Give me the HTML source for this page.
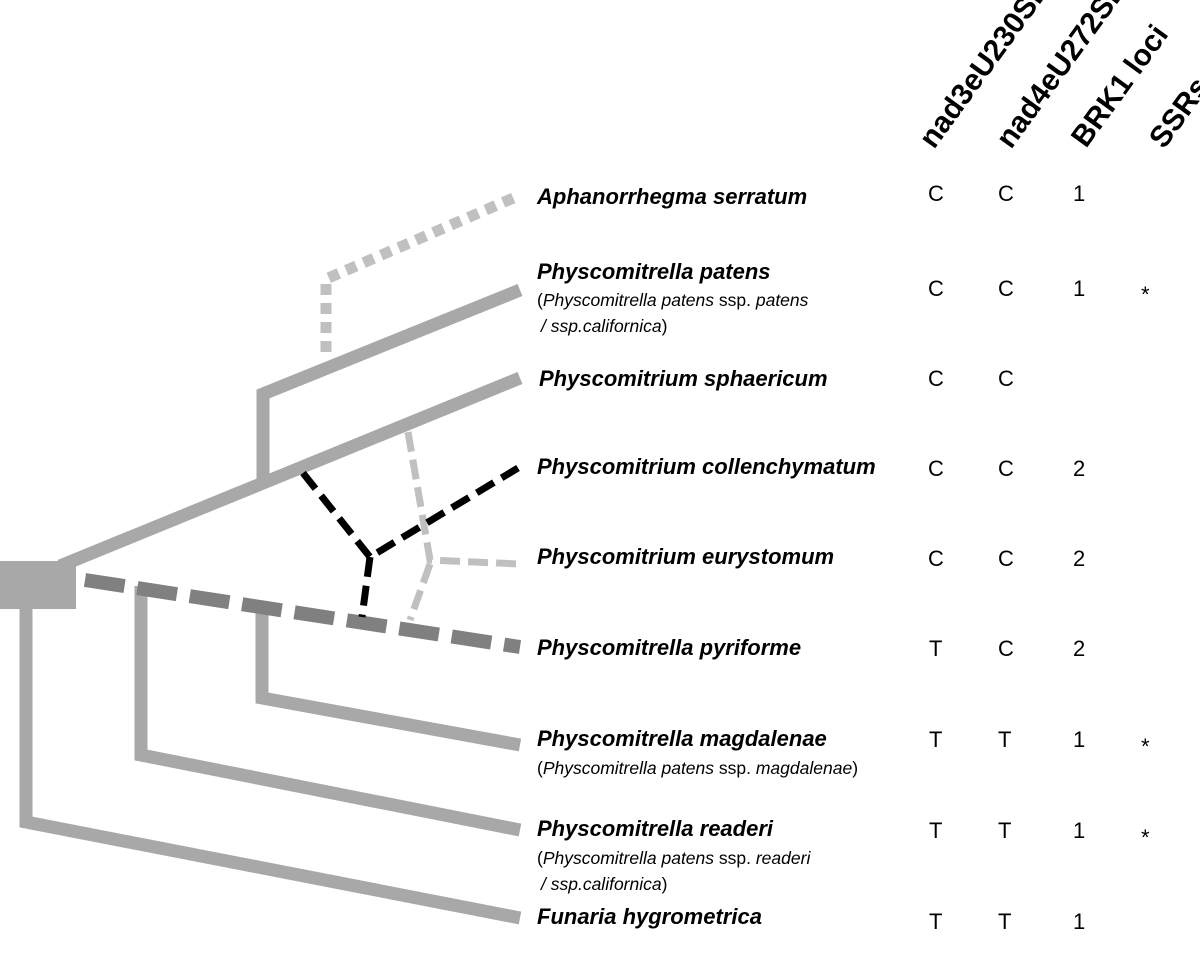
<!DOCTYPE html>
<html><head><meta charset="utf-8"><style>
html,body{margin:0;padding:0;background:#fff;}
svg{display:block;}
.sp{font-family:"Liberation Sans",sans-serif;font-weight:bold;font-style:italic;font-size:22px;fill:#000;}
.sub{font-family:"Liberation Sans",sans-serif;font-size:17.5px;fill:#000;}
.v{font-family:"Liberation Sans",sans-serif;font-size:22px;fill:#000;}
.h{font-family:"Liberation Sans",sans-serif;font-weight:bold;font-size:30px;fill:#000;}
</style></head><body>
<svg width="1200" height="964" viewBox="0 0 1200 964" xmlns="http://www.w3.org/2000/svg">
<g fill="none" stroke-linejoin="miter" stroke-linecap="butt">
<polyline points="326,352 326,279 518,196" stroke="#c0c0c0" stroke-width="11" stroke-dasharray="11 8"/>
<polyline points="60,566 520,378" stroke="#a8a8a8" stroke-width="13"/>
<polyline points="263,482 263,394 520,290" stroke="#a8a8a8" stroke-width="13"/>
<polyline points="262,610 262,698 520,745" stroke="#a8a8a8" stroke-width="13"/>
<polyline points="141,586 141,755 520,830" stroke="#a8a8a8" stroke-width="13"/>
<polyline points="26,608 26,822 520,918" stroke="#a8a8a8" stroke-width="13"/>
<polyline points="85,580 520,647" stroke="#808080" stroke-width="14" stroke-dasharray="40 13"/>
<polyline points="408,432 430,560 520,564" stroke="#c0c0c0" stroke-width="7" stroke-dasharray="20 8"/>
<polyline points="430,564 410,620" stroke="#c0c0c0" stroke-width="7" stroke-dasharray="20 8"/>
<polyline points="303,473 370,557 518,468" stroke="#000" stroke-width="7" stroke-dasharray="20 9"/>
<polyline points="370,557 362,617" stroke="#000" stroke-width="7" stroke-dasharray="20 9"/>
</g>
<rect x="0" y="561" width="76" height="48" fill="#a8a8a8"/>

<text class="sp" x="537" y="204">Aphanorrhegma serratum</text>
<text class="sp" x="537" y="279">Physcomitrella patens</text>
<text class="sub" x="537" y="306">(<tspan font-style="italic">Physcomitrella patens</tspan> ssp. <tspan font-style="italic">patens</tspan></text>
<text class="sub" x="541" y="332" font-style="italic">/ ssp.californica<tspan font-style="normal">)</tspan></text>
<text class="sp" x="539" y="386">Physcomitrium sphaericum</text>
<text class="sp" x="537" y="474">Physcomitrium collenchymatum</text>
<text class="sp" x="537" y="564">Physcomitrium eurystomum</text>
<text class="sp" x="537" y="655">Physcomitrella pyriforme</text>
<text class="sp" x="537" y="746">Physcomitrella magdalenae</text>
<text class="sub" x="537" y="774">(<tspan font-style="italic">Physcomitrella patens</tspan> ssp. <tspan font-style="italic">magdalenae</tspan>)</text>
<text class="sp" x="537" y="836">Physcomitrella readeri</text>
<text class="sub" x="537" y="864">(<tspan font-style="italic">Physcomitrella patens</tspan> ssp. <tspan font-style="italic">readeri</tspan></text>
<text class="sub" x="541" y="890" font-style="italic">/ ssp.californica<tspan font-style="normal">)</tspan></text>
<text class="sp" x="537" y="924">Funaria hygrometrica</text>

<g class="v">
<text x="928" y="201">C</text><text x="998" y="201">C</text><text x="1073" y="201">1</text>
<text x="928" y="296">C</text><text x="998" y="296">C</text><text x="1073" y="296">1</text><text x="1141" y="302">*</text>
<text x="928" y="386">C</text><text x="998" y="386">C</text>
<text x="928" y="476">C</text><text x="998" y="476">C</text><text x="1073" y="476">2</text>
<text x="928" y="566">C</text><text x="998" y="566">C</text><text x="1073" y="566">2</text>
<text x="929" y="656">T</text><text x="998" y="656">C</text><text x="1073" y="656">2</text>
<text x="929" y="747">T</text><text x="998" y="747">T</text><text x="1073" y="747">1</text><text x="1141" y="754">*</text>
<text x="929" y="838">T</text><text x="998" y="838">T</text><text x="1073" y="838">1</text><text x="1141" y="845">*</text>
<text x="929" y="929">T</text><text x="998" y="929">T</text><text x="1073" y="929">1</text>
</g>
<text class="h" transform="translate(934,150) rotate(-54)">nad3eU230SL</text>
<text class="h" transform="translate(1011,150) rotate(-54)">nad4eU272SL</text>
<text class="h" transform="translate(1086,149) rotate(-54)">BRK1 loci</text>
<text class="h" transform="translate(1164,150) rotate(-54)">SSRs</text>
</svg>
</body></html>
